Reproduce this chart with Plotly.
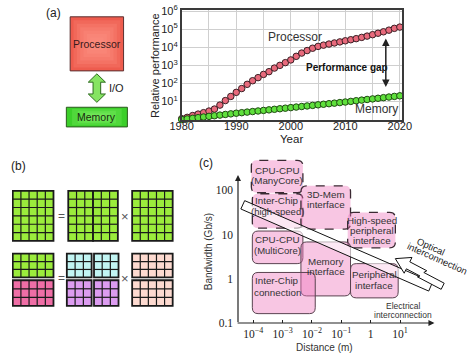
import numpy as np
import plotly.graph_objects as go

W, H = 474, 353
SANS = "Liberation Sans, Arial, sans-serif"
SERIF = "Liberation Serif, Times New Roman, serif"

# ---------------- panel (a) data ----------------
years = list(range(1980, 2021))
processor = [1.12, 1.32, 1.66, 2.0, 2.4, 2.95, 3.8, 6.3, 11.2, 19, 32, 52, 89, 141, 209,
             316, 447, 708, 1000, 1413, 1995, 3162, 4786, 6607, 8913, 11220, 13180, 15140,
             17380, 19950, 22910, 26300, 30200, 35480, 41690, 50120, 60260, 72440, 89130,
             112200, 131800]
memory = [1.0, 1.08, 1.17, 1.27, 1.38, 1.5, 1.62, 1.76, 1.91, 2.06, 2.24, 2.4, 2.58, 2.77,
          2.98, 3.2, 3.43, 3.69, 3.96, 4.26, 4.57, 4.91, 5.27, 5.66, 6.08, 6.53, 7.01, 7.53,
          8.09, 8.69, 9.33, 10.1, 11.0, 11.9, 12.9, 13.9, 15.1, 16.3, 17.6, 19.1, 20.6]
year_ticks = [1980, 1990, 2000, 2010, 2020]
year_minor = [1985, 1995, 2005, 2015]
perf_ticks = [10, 100, 1e3, 1e4, 1e5, 1e6]
perf_ticktext = ["10<sup>1</sup>", "10<sup>2</sup>", "10<sup>3</sup>",
                 "10<sup>4</sup>", "10<sup>5</sup>", "10<sup>6</sup>"]

# ---------------- panel (c) data ----------------
box_lines = [["CPU-CPU", "(ManyCore)"], ["Inter-Chip", "(high-speed)"],
             ["3D-Mem", "interface"], ["High-speed", "peripheral", "interface"],
             ["CPU-CPU", "(MultiCore)"], ["Memory", "interface"],
             ["Peripheral", "interface"], ["Inter-Chip", "connection"]]
dist_lo = [8.6e-5, 9.3e-5, 4.2e-3, 0.164, 9.3e-5, 4.2e-3, 0.205, 9.3e-5]
dist_hi = [4.9e-3, 4.9e-3, 0.205, 6.9, 4.9e-3, 0.205, 8.6, 0.0129]
bw_lo = [88, 13.9, 13.3, 5.0, 2.2, 0.41, 0.37, 0.163]
bw_hi = [476, 83.6, 126, 31.6, 12.0, 6.8, 2.2, 1.39]
box_dashed = [True, True, True, True, False, False, False, False]
dist_ticks = [1e-4, 1e-3, 1e-2, 1e-1, 1, 10]
dist_ticktext = ["10<sup>−4</sup>", "10<sup>−3</sup>", "10<sup>−2</sup>",
                 "10<sup>−1</sup>", "1", "10<sup>1</sup>"]
bw_ticks = [0.1, 1, 10, 100]
bw_ticktext = ["0.1", "1", "10", "100"]

fig = go.Figure()

# ---------------- panel (a) chart ----------------
fig.add_trace(go.Scatter(x=years, y=processor, mode="markers", cliponaxis=False,
                         marker=dict(size=6.5, color="#e86a7c",
                                     line=dict(width=1, color="#3a1f24")),
                         showlegend=False, hoverinfo="skip", xaxis="x", yaxis="y"))
fig.add_trace(go.Scatter(x=years, y=memory, mode="markers", cliponaxis=False,
                         marker=dict(size=6.5, color="#5fe03c",
                                     line=dict(width=1, color="#1f4a12")),
                         showlegend=False, hoverinfo="skip", xaxis="x", yaxis="y"))
# dummy traces to create the other subplots
fig.add_trace(go.Scatter(x=[None], y=[None], xaxis="x3", yaxis="y3",
                         showlegend=False, hoverinfo="skip"))
fig.add_trace(go.Scatter(x=[None], y=[None], xaxis="x9", yaxis="y9",
                         showlegend=False, hoverinfo="skip"))

shapes = []
annotations = []


def txt(x, y, s, size=10, color="#333", family=SANS, angle=0, **kw):
    d = dict(x=x, y=y, xref="x9", yref="y9", text=s, showarrow=False,
             font=dict(size=size, color=color, family=family), textangle=angle,
             xanchor="center", yanchor="middle")
    d.update(kw)
    annotations.append(d)


def poly(points, fill, line="#222", width=1, ref=("x9", "y9"), dash="solid"):
    p = "M" + " L".join(f"{x:.2f},{y:.2f}" for x, y in points) + " Z"
    shapes.append(dict(type="path", path=p, xref=ref[0], yref=ref[1],
                       fillcolor=fill, line=dict(color=line, width=width, dash=dash),
                       layer="above"))


def grad_rect(x0, y0, x1, y1, base, glow, edge, steps=5, inset=(3.5, 2.5)):
    shapes.append(dict(type="rect", xref="x9", yref="y9", x0=x0, x1=x1, y0=y0, y1=y1,
                       fillcolor=base, line=dict(color=edge, width=1), layer="above"))
    for k in range(1, steps + 1):
        shapes.append(dict(type="rect", xref="x9", yref="y9",
                           x0=x0 + k * inset[0], x1=x1 - k * inset[0],
                           y0=y0 + k * inset[1], y1=y1 - k * inset[1],
                           fillcolor=glow, line=dict(width=0), layer="above"))


# ---------------- panel (b) matrices (pixel layout) ----------------
GREEN, PINK, CYAN, VIOLET, PEACH = "#9bec3c", "#ef6ea6", "#c2f5f3", "#dc9cf0", "#fddad0"
blocks = [
    (0.8, 188, 43.5, 239, 6, 5, GREEN),
    (59, 188, 85, 239, 6, 3, GREEN), (85, 188, 111, 239, 6, 3, GREEN),
    (126, 188, 168.5, 239, 6, 5, GREEN),
    (0.8, 252, 43.5, 276, 3, 5, GREEN), (0.8, 279, 43.5, 305, 3, 5, PINK),
    (57.5, 252, 83.5, 276, 3, 3, CYAN), (86, 252, 111.7, 276, 3, 3, CYAN),
    (57.5, 279, 83.5, 305, 3, 3, VIOLET), (86, 279, 111.7, 305, 3, 3, VIOLET),
    (126, 252, 168.5, 276, 3, 5, PEACH), (126, 279, 168.5, 305, 3, 5, PEACH),
]
for x0, y0, x1, y1, nr, nc, col in blocks:
    shapes.append(dict(type="rect", xref="x9", yref="y9", x0=x0, x1=x1, y0=y0, y1=y1,
                       fillcolor=col, line=dict(color="#1a1a1a", width=1.8), layer="above"))
    for i in range(1, nc):
        xx = x0 + (x1 - x0) * i / nc
        shapes.append(dict(type="line", xref="x9", yref="y9", x0=xx, x1=xx, y0=y0, y1=y1,
                           line=dict(color="#1a1a1a", width=1.2), layer="above"))
    for j in range(1, nr):
        yy = y0 + (y1 - y0) * j / nr
        shapes.append(dict(type="line", xref="x9", yref="y9", x0=x0, x1=x1, y0=yy, y1=yy,
                           line=dict(color="#1a1a1a", width=1.2), layer="above"))
txt(7, 163, "(b)", size=12, color="#222")
for yy in (214, 277):
    txt(51.7, yy, "=", size=12, color="#555")
    txt(118.3, yy, "×", size=13, color="#555")

# ---------------- panel (a) diagram ----------------
grad_rect(61, 11, 117, 66, "#ee5c4e", "rgba(255,150,135,0.22)", "#5a3030",
          steps=6, inset=(3.5, 3.5))
grad_rect(57, 103, 121, 123, "#3ccf2a", "rgba(140,245,110,0.25)", "#2a5a1c",
          steps=4, inset=(6, 1.8))
poly([(89, 69), (98, 77.5), (93, 77.5), (93, 89.5), (98, 89.5), (89, 98), (80, 89.5),
      (85, 89.5), (85, 77.5), (80, 77.5)], "#86e462", line="#2d6b1e", width=1)
txt(43, 7, "(a)", size=12, color="#222")
txt(89, 39, "Processor", size=10.5, color="#3a1a1a")
txt(89, 113, "Memory", size=10.5, color="#1a2a10")
txt(110, 83, "I/O", size=11, color="#222")

# ---------------- panel (a) chart annotations ----------------
txt(297, 32, "Processor", size=12, color="#333")
txt(351, 63, "<b>Performance gap</b>", size=10, color="#111")
txt(382, 105, "Memory", size=12, color="#333")
txt(150, 61, "Relative performance", size=11, color="#222", angle=-90)
txt(293, 135, "Year", size=11.5, color="#222")
annotations.append(dict(x=392, y=33, ax=392, ay=84, xref="x9", yref="y9", axref="x9",
                        ayref="y9", text="", showarrow=True, arrowhead=2, arrowside="end+start",
                        arrowsize=1, arrowwidth=1.5, arrowcolor="#222"))

# ---------------- panel (c) boxes ----------------
RX, RY = 6 / 30.8, 6 / 45.0
for i in range(len(dist_lo)):
    x0, x1 = np.log10(dist_lo[i]), np.log10(dist_hi[i])
    y0, y1 = np.log10(bw_lo[i]), np.log10(bw_hi[i])
    p = (f"M{x0+RX},{y0} L{x1-RX},{y0} Q{x1},{y0} {x1},{y0+RY} "
         f"L{x1},{y1-RY} Q{x1},{y1} {x1-RX},{y1} L{x0+RX},{y1} "
         f"Q{x0},{y1} {x0},{y1-RY} L{x0},{y0+RY} Q{x0},{y0} {x0+RX},{y0} Z")
    shapes.append(dict(type="path", path=p, xref="x3", yref="y3",
                       fillcolor="rgba(238,118,188,0.42)",
                       line=dict(color="#3a2a33" if box_dashed[i] else "#5a4350",
                                 width=1.3 if box_dashed[i] else 1.0,
                                 dash="dash" if box_dashed[i] else "solid"),
                       layer="above"))

# optical band
poly([(244, 198), (441, 281), (437, 290), (240, 206.5)], "rgba(255,255,255,0.6)",
     line="#111", width=1)

# optical interconnection arrow (hollow, pointing to upper-left)
ang = np.deg2rad(27)
d = np.array([np.cos(ang), np.sin(ang)])
n = np.array([-np.sin(ang), np.cos(ang)])
tip = np.array([402.0, 257.0])
local = [(0, 0), (15, -9), (15, -4), (35, -4), (33, -1), (57, -1), (57, 6), (29, 6),
         (31, 4), (15, 4), (15, 9)]
poly([tuple(tip + u * d + v * n) for u, v in local], "white", line="#111", width=1)

# box texts
box_text_pos = [[(278, 167), (278, 178)], [(278, 198), (278, 209.5)],
                [(329, 191.5), (329, 202)], [(377, 218), (377, 228.5), (377, 239)],
                [(278, 238), (278, 249)], [(329, 259.5), (329, 270)],
                [(380, 273.5), (380, 284.5)], [(278, 279.5), (278, 291)]]
for lines, poss in zip(box_lines, box_text_pos):
    for s, (x, y) in zip(lines, poss):
        txt(x, y, s, size=9.8 if len(s) < 11 else 9.5, color="#333")

txt(203, 160, "(c)", size=12, color="#222")
txt(439, 245, "Optical", size=9.5, color="#222", angle=24)
txt(446, 257, "interconnection", size=9.5, color="#222", angle=24)
txt(411, 305, "Electrical", size=8.5, color="#333")
txt(410, 314, "interconnection", size=8.5, color="#333")
txt(206, 250, "Bandwidth (Gb/s)", size=10, color="#333", angle=-90)
txt(328, 347, "Distance (m)", size=10, color="#333")
# axis arrows
annotations.append(dict(x=237, y=172, ax=237, ay=323, xref="x9", yref="y9", axref="x9",
                        ayref="y9", text="", showarrow=True, arrowhead=2, arrowsize=1,
                        arrowwidth=1.2, arrowcolor="#222"))
annotations.append(dict(x=443, y=322.5, ax=235, ay=322.5, xref="x9", yref="y9", axref="x9",
                        ayref="y9", text="", showarrow=True, arrowhead=2, arrowsize=1,
                        arrowwidth=1.2, arrowcolor="#222"))

fig.update_layout(
    width=W, height=H, margin=dict(l=0, r=0, t=0, b=0),
    paper_bgcolor="white", plot_bgcolor="rgba(0,0,0,0)", showlegend=False,
    font=dict(family=SANS, color="#222"),
    xaxis=dict(domain=[178 / W, 409 / W], range=[1980, 2020.4], anchor="y",
               tickvals=year_ticks, showgrid=True, gridcolor="#cfcfcf", gridwidth=1.2,
               minor=dict(tickvals=year_minor, showgrid=True, gridcolor="#cfcfcf",
                          gridwidth=1.2, ticks=""),
               showline=True, mirror=True, linecolor="#3a3a3a", linewidth=1.5,
               ticks="", zeroline=False, ticklabelstandoff=-4,
               tickfont=dict(size=11, color="#222")),
    yaxis=dict(type="log", domain=[1 - 115.5 / H, 1 - 4 / H], range=[0, 6.07], anchor="x",
               tickvals=perf_ticks, ticktext=perf_ticktext, showgrid=True,
               gridcolor="#cfcfcf", gridwidth=1.2, showline=True, mirror=True,
               linecolor="#3a3a3a", linewidth=1.5, ticks="", zeroline=False,
               ticklabeloverflow="allow", tickfont=dict(size=11, color="#222")),
    xaxis3=dict(domain=[200 / W, 1], range=[-5.7208, 3.1753], anchor="free",
                position=1 - 322.5 / H, tickvals=list(np.log10(dist_ticks)),
                ticktext=dist_ticktext, showgrid=False, zeroline=False, showline=False,
                ticks="inside", ticklen=3, tickcolor="#222", ticklabelstandoff=2,
                tickfont=dict(size=11.5, family=SERIF, color="#222")),
    yaxis3=dict(domain=[1 - 345 / H, 1 - 150 / H], range=[-1.5, 2.8333], anchor="free",
                position=237 / W, tickvals=list(np.log10(bw_ticks)), ticktext=bw_ticktext,
                showgrid=False, zeroline=False, showline=False, ticks="",
                ticklabelstandoff=5,
                tickfont=dict(size=11.5, family=SERIF, color="#222")),
    xaxis9=dict(domain=[0, 1], range=[0, W], visible=False, anchor="y9", fixedrange=True),
    yaxis9=dict(domain=[0, 1], range=[H, 0], visible=False, anchor="x9", fixedrange=True),
    shapes=shapes, annotations=annotations,
)

fig.write_html("out.html")
